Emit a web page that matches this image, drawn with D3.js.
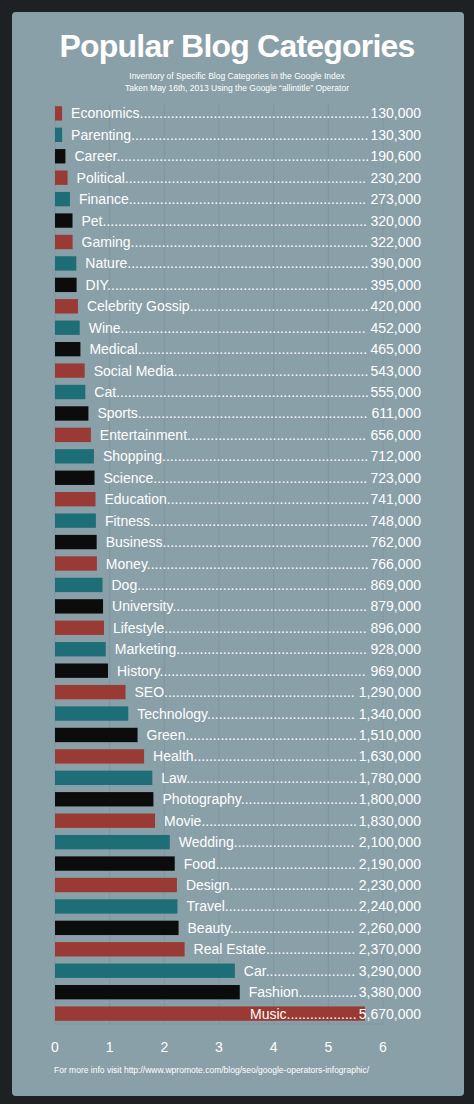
<!DOCTYPE html>
<html>
<head>
<script src="https://d3js.org/d3.v7.min.js"></script>
<style>
  body { margin: 0; background: #1e2124; }
  text { font-family: "Liberation Sans", Arial, sans-serif; fill: #fff; }
</style>
</head>
<body>
<svg id="chart" width="474" height="1104"></svg>
<script>
var categories = ["Economics","Parenting","Career","Political","Finance","Pet","Gaming","Nature","DIY","Celebrity Gossip","Wine","Medical","Social Media","Cat","Sports","Entertainment","Shopping","Science","Education","Fitness","Business","Money","Dog","University","Lifestyle","Marketing","History","SEO","Technology","Green","Health","Law","Photography","Movie","Wedding","Food","Design","Travel","Beauty","Real Estate","Car","Fashion","Music"];
var values = [130000,130300,190600,230200,273000,320000,322000,390000,395000,420000,452000,465000,543000,555000,611000,656000,712000,723000,741000,748000,762000,766000,869000,879000,896000,928000,969000,1290000,1340000,1510000,1630000,1780000,1800000,1830000,2100000,2190000,2230000,2240000,2260000,2370000,3290000,3380000,5670000];
var ticks = [0,1,2,3,4,5,6];
var colors = ["#9a3a34","#1e6e78","#0c0c0c"];

var svg = d3.select("#chart");
svg.append("rect").attr("x",12).attr("y",12).attr("width",452).attr("height",1084).attr("rx",4).attr("fill","#89a0a9");

svg.append("text").attr("x",237).attr("y",57).attr("text-anchor","middle")
  .attr("font-size",32).attr("font-weight","bold").attr("letter-spacing",-0.8).text("Popular Blog Categories");
svg.append("text").attr("x",237).attr("y",79).attr("text-anchor","middle").attr("font-size",8.5)
  .text("Inventory of Specific Blog Categories in the Google Index");
svg.append("text").attr("x",237).attr("y",91).attr("text-anchor","middle").attr("font-size",8.5)
  .text("Taken May 16th, 2013 Using the Google \u201callintitle\u201d Operator");

var x = d3.scaleLinear().domain([0,6]).range([55,383]);
var y = d3.scaleBand().domain(categories).range([103,1024]).paddingInner(0.33).paddingOuter(0.15);

// grid
svg.append("g").selectAll("line").data(ticks).join("line")
  .attr("x1",d=>x(d)).attr("x2",d=>x(d)).attr("y1",103).attr("y2",1024)
  .attr("stroke","#7f959e").attr("stroke-width",1);
svg.append("line").attr("x1",x(0)).attr("x2",x(6)).attr("y1",1024).attr("y2",1024).attr("stroke","#7f959e");

var rows = svg.append("g").selectAll("g").data(categories).join("g");
rows.append("rect").attr("x",x(0)).attr("y",d=>y(d)).attr("height",y.bandwidth())
  .attr("width",(d,i)=>x(values[i]/1e6)-x(0)).attr("fill",(d,i)=>colors[i%3]);

var fmt = d3.format(",");
var valRight = 421;
rows.each(function(d,i){
  var g = d3.select(this);
  var cy = y(d) + y.bandwidth()/2 + 5;
  var v = g.append("text").attr("x",valRight).attr("y",cy).attr("text-anchor","end").attr("font-size",14).text(fmt(values[i]));
  var vStart = valRight - v.node().getComputedTextLength();
  var lx = Math.min(x(values[i]/1e6) + 9, 250);
  var t = g.append("text").attr("x",lx).attr("y",cy).attr("font-size",14).text(d);
  var s = d;
  while (lx + t.node().getComputedTextLength() < vStart - 3) { s += "."; t.text(s); }
  if (lx + t.node().getComputedTextLength() > vStart - 1) { t.text(s.slice(0,-1)); }
});

svg.append("g").selectAll("text").data(ticks).join("text")
  .attr("x",d=>x(d)).attr("y",1052).attr("text-anchor","middle").attr("font-size",14).text(d=>d);

svg.append("text").attr("x",54).attr("y",1073).attr("font-size",8.5)
  .text("For more info visit http://www.wpromote.com/blog/seo/google-operators-infographic/");
</script>
</body>
</html>
